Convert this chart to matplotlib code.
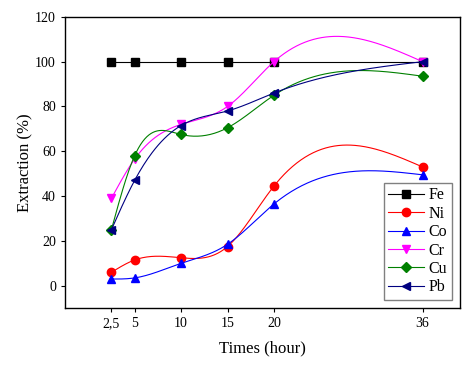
import numpy as np
import matplotlib
matplotlib.use("Agg")
import matplotlib.pyplot as plt

plt.rcParams['font.family'] = ['Liberation Serif', 'DejaVu Serif']

times = [2.5, 5, 10, 15, 20, 36]
tick_labels = ["2,5", "5", "10", "15", "20", "36"]

fe = [100, 100, 100, 100, 100, 100]
ni = [6, 11.5, 12.5, 17.5, 44.5, 53]
co = [3, 3.5, 10, 18.5, 36.5, 49.5]
cr = [39, 56.5, 72, 80, 100, 100]
cu = [25, 58, 67.5, 70.5, 85, 93.5]
pb = [25, 47, 71.5, 78, 86, 100]


def natural_spline(x, y, n=300):
    # natural cubic spline, like Origin's spline connection
    x = np.asarray(x, float)
    y = np.asarray(y, float)
    k = len(x)
    h = np.diff(x)
    A = np.zeros((k, k))
    b = np.zeros(k)
    A[0, 0] = 1
    A[-1, -1] = 1
    for i in range(1, k - 1):
        A[i, i - 1] = h[i - 1]
        A[i, i] = 2 * (h[i - 1] + h[i])
        A[i, i + 1] = h[i]
        b[i] = 3 * ((y[i + 1] - y[i]) / h[i] - (y[i] - y[i - 1]) / h[i - 1])
    c = np.linalg.solve(A, b)
    xs = np.linspace(x[0], x[-1], n)
    idx = np.clip(np.searchsorted(x, xs) - 1, 0, k - 2)
    dx = xs - x[idx]
    bb = (y[1:] - y[:-1]) / h - h * (2 * c[:-1] + c[1:]) / 3
    dd = (c[1:] - c[:-1]) / (3 * h)
    ys = y[idx] + bb[idx] * dx + c[idx] * dx ** 2 + dd[idx] * dx ** 3
    return xs, ys


series = [
    ("Fe", fe, "black", "s"),
    ("Ni", ni, "red", "o"),
    ("Co", co, "blue", "^"),
    ("Cr", cr, "magenta", "v"),
    ("Cu", cu, "green", "D"),
    ("Pb", pb, "navy", "<"),
]

fig = plt.figure(figsize=(4.74, 3.66), dpi=100)
ax = fig.add_axes([0.137, 0.158, 0.833, 0.796])

for name, vals, col, mk in series:
    ms = 5 if mk == "D" else 6
    xs, ys = natural_spline(times, vals)
    ax.plot(xs, ys, color=col, lw=0.8)
    ax.plot(times, vals, color=col, marker=mk, ms=ms, linestyle="none")
    ax.plot([], [], color=col, lw=0.8, marker=mk, ms=ms, label=name)

ax.set_xlim(-2.5, 40)
ax.set_ylim(-10, 120)
ax.set_xticks(times)
ax.set_xticklabels(tick_labels)
ax.set_yticks([0, 20, 40, 60, 80, 100, 120])
ax.tick_params(direction="out", labelsize=10, length=3, width=0.8)
for s in ax.spines.values():
    s.set_linewidth(1.0)

ax.set_xlabel("Times (hour)", fontsize=12, labelpad=7)
ax.set_ylabel("Extraction (%)", fontsize=12, labelpad=1)

leg = ax.legend(loc="lower right", fontsize=11.5, handlelength=2.2, handletextpad=0.3,
                borderpad=0.3, labelspacing=0.15, fancybox=False, borderaxespad=0.5,
                framealpha=1)
leg.get_frame().set_edgecolor("gray")
leg.get_frame().set_linewidth(1.0)

fig.savefig("out.png", dpi=100)
